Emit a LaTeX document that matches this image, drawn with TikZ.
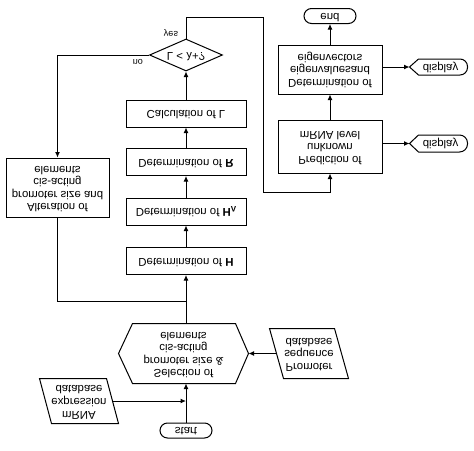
\documentclass[tikz,border=0pt]{standalone}
\usepackage{graphicx}
\usepackage{fontspec}
\setmainfont{Liberation Sans}
\usetikzlibrary{shapes.geometric,arrows.meta,calc}
\newcommand{\fl}[1]{\scalebox{1}[-1]{\begin{tabular}{@{}c@{}}#1\end{tabular}}}
\begin{document}
\begin{tikzpicture}[x=1pt,y=-1pt, line width=1pt,
  >={Latex[length=5.5pt,width=5pt]},
  txt/.style={font=\fontsize{11.4}{12.6}\selectfont},
  box/.style={txt, draw, minimum width=120pt, minimum height=27pt, inner sep=0pt},
  plain/.style={txt, inner sep=0pt},
  term/.style={txt, draw, rounded corners=7.5pt, minimum width=52pt, minimum height=15pt, inner sep=0pt},
  lab/.style={font=\fontsize{9}{10}\selectfont, inner sep=0pt}]
\useasboundingbox (0,0) rectangle (474,450);

% start and inputs
\node[term] (start) at (186,430.5) {\fl{start}};
\node[plain, minimum width=66pt, minimum height=44pt] (mrna) at (79,401) {\fl{mRNA\\expression\\database}};
\draw ($(mrna.north west)+(-6,0)$) -- ($(mrna.north east)+(-6,0)$) -- ($(mrna.south east)+(6,0)$) -- ($(mrna.south west)+(6,0)$) -- cycle;
\node[plain, minimum width=129pt, minimum height=59pt] (hex) at (183.5,353.5) {\fl{Selection of\\promoter size \&\\cis-acting\\elements}};
\draw (hex.west) -- ($(hex.north west)+(14,0)$) -- ($(hex.north east)+(-13,0)$) -- (hex.east) -- ($(hex.south east)+(-13,0)$) -- ($(hex.south west)+(14,0)$) -- cycle;
\node[plain, minimum width=64pt, minimum height=49pt] (prom) at (309,353.5) {\fl{Promoter\\sequence\\database}};
\draw ($(prom.north west)+(-7,0)$) -- ($(prom.north east)+(-7,0)$) -- ($(prom.south east)+(7,0)$) -- ($(prom.south west)+(7,0)$) -- cycle;

% main column
\node[box] (h) at (186,261) {\fl{Determination of \textbf{H}}};
\node[box] (hv) at (186,211.5) {\fl{Determination of \textbf{H}\raisebox{-0.45ex}{\footnotesize\textbf{Λ}}}};
\node[box] (r) at (186,162) {\fl{Determination of \textbf{R}}};
\node[box] (l) at (186,113.5) {\fl{Calculation of L}};
\node[txt, draw, diamond, aspect=2.3, minimum width=73pt, minimum height=32pt, inner sep=0pt] (dec) at (186,55) {\fl{L < λ+?}};
\node[lab] (yes) at (171,33) {\fl{yes}};
\node[lab] (no) at (138,61) {\fl{no}};

% alteration
\node[box, minimum width=103pt, minimum height=59pt] (alt) at (57.5,187.5) {\fl{Alteration of\\promoter size and\\cis-acting\\elements}};

% right column
\node[box, minimum width=104pt, minimum height=53pt] (pred) at (330,146.5) {\fl{Prediction of\\unknown\\mRNA level}};
\node[box, minimum width=104pt, minimum height=49pt] (eig) at (330,69.5) {\fl{Determination of\\eigenvaluesand\\eigenvectors}};
\node[term] (end) at (330,16) {\fl{end}};
\node[plain, minimum width=57pt, minimum height=15pt] (d1) at (438.5,67) {\hspace{4pt}\fl{display}};
\draw (d1.west) -- ($(d1.north west)+(9,0)$) [rounded corners=7.5pt]-- (d1.north east) -- (d1.south east) [sharp corners]-- ($(d1.south west)+(9,0)$) -- cycle;
\node[plain, minimum width=57pt, minimum height=16pt] (d2) at (438.5,143.5) {\hspace{4pt}\fl{display}};
\draw (d2.west) -- ($(d2.north west)+(9,0)$) [rounded corners=8pt]-- (d2.north east) -- (d2.south east) [sharp corners]-- ($(d2.south west)+(9,0)$) -- cycle;

% connectors
\coordinate (join) at (186,301);
\coordinate (y1) at (263,17);
\coordinate (y2) at (263,192);
\draw[->] (start.north) -- (start.north |- hex.south);
\draw[->] (mrna.east) -- (start.north |- mrna.east);
\draw[->] (prom.west) -- (hex.east);
\draw[->] (h.south |- hex.north) -- (h.south);
\draw (alt.south) |- (join);
\draw[->] (h) -- (hv);
\draw[->] (hv) -- (r);
\draw[->] (r) -- (l);
\draw[->] (l) -- (dec);
\draw[->] (dec.west) -| (alt.north);
\draw[->] (dec.north) |- (y1) -- (y2) -| (pred.south);
\draw[->] (pred) -- (eig);
\draw[->] (eig) -- (end);
\draw[->] (eig.east |- d1.west) -- (d1.west);
\draw[->] (pred.east |- d2.west) -- (d2.west);
\end{tikzpicture}
\end{document}
